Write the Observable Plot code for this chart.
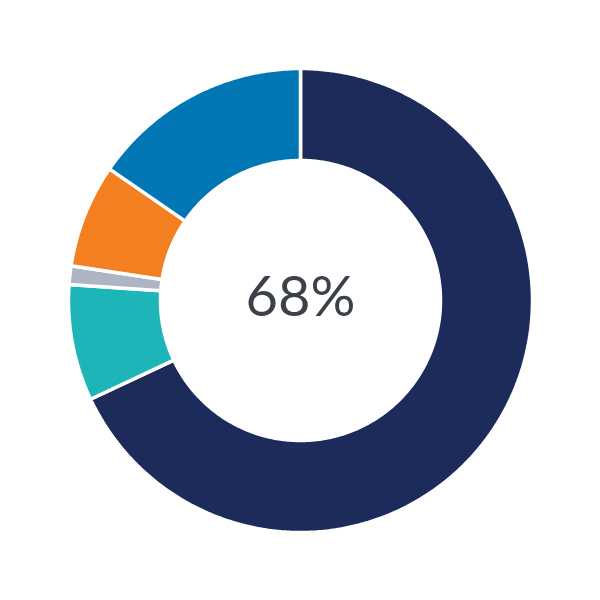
<!DOCTYPE html>
<html>
<head>
<meta charset="utf-8">
<script src="https://cdn.jsdelivr.net/npm/d3@7"></script>
<script src="https://cdn.jsdelivr.net/npm/@observablehq/plot@0.6"></script>
<style>
  html, body { margin: 0; padding: 0; background: #ffffff; }
  #chart { width: 600px; height: 600px; }
</style>
</head>
<body>
<div id="chart"></div>
<script>
const categories = ["Segment 1", "Segment 2", "Segment 3", "Segment 4", "Segment 5"];
const values = [68, 8.1, 1.3, 7.2, 15.4];
const colors = ["#1c2b5a", "#1db5b8", "#adb5c4", "#f47f20", "#0077b5"];
const centerLabel = "68%";

const outerR = 232, innerR = 140;

const pie = d3.pie().sort(null).value(d => d.value);
const arcs = pie(categories.map((c, i) => ({category: c, value: values[i]})));

// Sample each slice as a closed polygon (angles clockwise from top)
const pts = [];
for (const a of arcs) {
  const n = Math.max(4, Math.ceil((a.endAngle - a.startAngle) / 0.01));
  const ring = [];
  for (let k = 0; k <= n; k++) {
    const t = a.startAngle + (a.endAngle - a.startAngle) * k / n;
    ring.push([outerR * Math.sin(t), -outerR * Math.cos(t)]);
  }
  for (let k = n; k >= 0; k--) {
    const t = a.startAngle + (a.endAngle - a.startAngle) * k / n;
    ring.push([innerR * Math.sin(t), -innerR * Math.cos(t)]);
  }
  ring.push(ring[0]);
  for (const [x, y] of ring) pts.push({category: a.data.category, x, y});
}

const chart = Plot.plot({
  width: 600,
  height: 600,
  margin: 0,
  x: {domain: [-300, 300], axis: null},
  y: {domain: [300, -300], axis: null},
  color: {type: "ordinal", domain: categories, range: colors},
  marks: [
    Plot.line(pts, {x: "x", y: "y", z: "category", fill: "category", stroke: "white", strokeWidth: 3.5, strokeLinejoin: "miter", curve: "linear"}),
    Plot.text([centerLabel], {x: () => 0, y: () => 0, text: d => d, fontSize: 56, fontWeight: 400, fontFamily: "Lato", fill: "#3b4049", textAnchor: "middle", dy: -2})
  ]
});
document.getElementById("chart").appendChild(chart);
</script>
</body>
</html>
